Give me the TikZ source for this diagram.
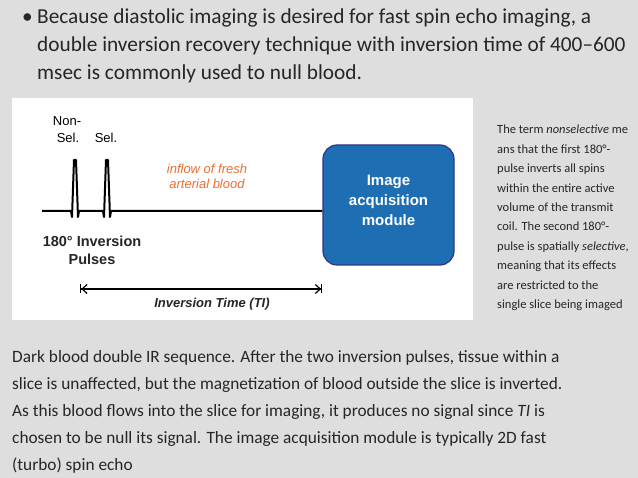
\documentclass[tikz,border=0pt]{standalone}
\usepackage{fontspec}
\usetikzlibrary{arrows.meta}
\setmainfont{Carlito}
\newfontfamily\arial{Liberation Sans}
\begin{document}
\begin{tikzpicture}[x=1pt,y=-1pt,
  slide/.style={anchor=base west,inner sep=0pt,font=\fontsize{21.3}{22}\selectfont,text=black!85},
  para/.style={anchor=base west,inner sep=0pt,font=\fontsize{17.3}{20}\selectfont,text=black!85},
  side/.style={anchor=base west,inner sep=0pt,font=\fontsize{12.5}{14}\selectfont,text=black!85},
  lab/.style={inner sep=0pt,font=\arial\fontsize{13}{16}\selectfont},
  blab/.style={inner sep=0pt,font=\arial\bfseries\fontsize{14.5}{18}\selectfont,text=black!85,align=center}]
\fill[black!13] (0,0) rectangle (638,478);
\useasboundingbox (0,0) rectangle (638,478);
\fill[white] (12,98) rectangle (473,320);
% bullet text
\node[slide] (b0) at (22,24) {\textbullet};
\node[slide] (t1) at (37,24) {Because diastolic imaging is desired for fast spin echo imaging, a};
\node[slide] (t2) at (37,52) {double inversion recovery technique with inversion time of 400--600};
\node[slide] (t3) at (37,80) {msec is commonly used to null blood.};
% diagram
\node[draw=blue!40!black!80,line width=1.2pt,fill={rgb,255:red,30;green,110;blue,180},rounded corners=14pt,minimum width=131pt,minimum height=120pt] (box) at (388.5,205) {};
\node[text=white,font=\arial\bfseries\fontsize{15}{20}\selectfont,align=center] (boxt) at (388.5,200) {Image\\acquisition\\module};
\coordinate (s) at (42,211);
\draw[line width=2pt,line join=round] (s) -- (71,211) -- (72,217) -- (74,160) -- (76,160) -- (78,217) -- (79,211)
  -- (103,211) -- (104,217) -- (106,160) -- (108,160) -- (110,217) -- (111,211) -- (box.west |- s);
\node[lab,anchor=base] (ns1) at (67,126) {Non-};
\node[lab,anchor=base] (ns2) at (68,143) {Sel.};
\node[lab,anchor=base] (sl) at (106,143) {Sel.};
\node[lab,font=\arial\itshape\fontsize{13}{15}\selectfont,text={rgb,255:red,235;green,110;blue,50},align=center] (inf) at (207,176) {inflow of fresh\\arterial blood};
\node[blab] (inv) at (92,250) {180\textdegree{} Inversion\\Pulses};
\coordinate (a1) at (80,289);
\coordinate (a2) at (box.west |- a1);
\draw[line width=1.2pt,{Bar[width=9pt]Straight Barb[length=5pt,width=9pt]}-{Straight Barb[length=5pt,width=9pt]Bar[width=9pt]}] (a1) -- (a2);
\node[blab,font=\arial\bfseries\itshape\fontsize{13}{15}\selectfont] (ti) at (212,304) {Inversion Time (TI)};
% side text
\foreach \t [count=\i] in {{The term \textit{nonselective} me},{ans that the first 180\textdegree-},{pulse inverts all spins},{within the entire active},{volume of the transmit},{coil. The second 180\textdegree-},{pulse is spatially \textit{selective},},{meaning that its effects},{are restricted to the},{single slice being imaged}}
  \node[side] (r\i) at (497,{134+(\i-1)*19.4}) {\t};
% bottom
\node[para] (p1) at (12,363) {Dark blood double IR sequence. After the two inversion pulses, tissue within a};
\node[para] (p2) at (12,390) {slice is unaffected, but the magnetization of blood outside the slice is inverted.};
\node[para] (p3) at (12,417) {As this blood flows into the slice for imaging, it produces no signal since \textit{TI} is};
\node[para] (p4) at (12,444) {chosen to be null its signal. The image acquisition module is typically 2D fast};
\node[para] (p5) at (12,471) {(turbo) spin echo};
\end{tikzpicture}
\end{document}
